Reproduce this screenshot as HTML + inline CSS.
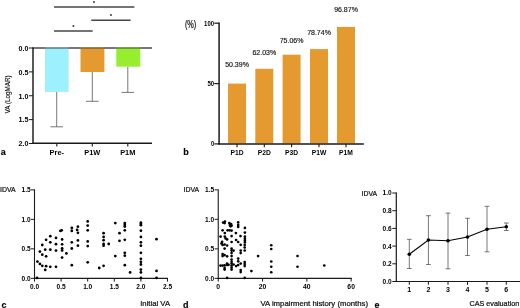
<!DOCTYPE html>
<html><head><meta charset="utf-8"><title>Figure</title>
<style>
html,body{margin:0;padding:0;background:#fff;}
body{width:520px;height:308px;overflow:hidden;}
svg{display:block;font-family:"Liberation Sans",Arial,sans-serif;}
.b{font-weight:bold;fill:#000;}
.p{stroke:#000;stroke-width:0.12;}
.t{fill:#111;stroke:#111;stroke-width:0.22;}
.t2{fill:#111;stroke:#111;stroke-width:0.15;}
</style></head><body>
<svg width="520" height="308" viewBox="0 0 520 308">
<rect width="520" height="308" fill="#fff"/>

<g id="pa">
<line x1="54" y1="7.05" x2="134.4" y2="7.05" stroke="#464646" stroke-width="1.45"/>
<line x1="91.3" y1="20.2" x2="130.6" y2="20.2" stroke="#464646" stroke-width="1.45"/>
<line x1="54" y1="30.9" x2="92.7" y2="30.9" stroke="#464646" stroke-width="1.45"/>
<text x="94" y="5.3" font-size="6" text-anchor="middle" class="b" fill="#111">*</text>
<text x="111" y="18.1" font-size="6" text-anchor="middle" class="b" fill="#111">*</text>
<text x="73.3" y="29.3" font-size="6" text-anchor="middle" class="b" fill="#111">*</text>
<line x1="56.7" y1="91.9" x2="56.7" y2="126.8" stroke="#555" stroke-width="0.8"/>
<line x1="50.400000000000006" y1="126.8" x2="63.0" y2="126.8" stroke="#555" stroke-width="0.8"/>
<rect x="45" y="48" width="23.6" height="43.9" fill="#9df0fd"/>
<line x1="92.3" y1="72" x2="92.3" y2="101.3" stroke="#555" stroke-width="0.8"/>
<line x1="86.0" y1="101.3" x2="98.6" y2="101.3" stroke="#555" stroke-width="0.8"/>
<rect x="80.5" y="48" width="23.9" height="24.0" fill="#e59a2f"/>
<line x1="127.8" y1="66.7" x2="127.8" y2="92.4" stroke="#555" stroke-width="0.8"/>
<line x1="121.5" y1="92.4" x2="134.1" y2="92.4" stroke="#555" stroke-width="0.8"/>
<rect x="116.3" y="48" width="24.0" height="18.7" fill="#97ee2f"/>
<line x1="32.4" y1="48" x2="152" y2="48" stroke="#4a4a4a" stroke-width="1.3"/>
<rect x="45" y="47.35" width="23.6" height="1.3" fill="#9df0fd" opacity="0.45"/>
<rect x="80.5" y="47.35" width="23.9" height="1.3" fill="#e59a2f" opacity="0.45"/>
<rect x="116.3" y="47.35" width="24.0" height="1.3" fill="#97ee2f" opacity="0.45"/>
<line x1="33" y1="47.4" x2="33" y2="143.9" stroke="#1a1a1a" stroke-width="1.45"/>
<line x1="32.4" y1="143.25" x2="152" y2="143.25" stroke="#1a1a1a" stroke-width="1.3"/>
<line x1="29" y1="48.0" x2="33" y2="48.0" stroke="#1a1a1a" stroke-width="1"/>
<text x="18.4" y="50.80" font-size="7.8" textLength="10" lengthAdjust="spacingAndGlyphs" class="b">0.0</text>
<line x1="29" y1="71.875" x2="33" y2="71.875" stroke="#1a1a1a" stroke-width="1"/>
<text x="18.4" y="74.67" font-size="7.8" textLength="10" lengthAdjust="spacingAndGlyphs" class="b">0.5</text>
<line x1="29" y1="95.75" x2="33" y2="95.75" stroke="#1a1a1a" stroke-width="1"/>
<text x="18.4" y="98.55" font-size="7.8" textLength="10" lengthAdjust="spacingAndGlyphs" class="b">1.0</text>
<line x1="29" y1="119.625" x2="33" y2="119.625" stroke="#1a1a1a" stroke-width="1"/>
<text x="18.4" y="122.42" font-size="7.8" textLength="10" lengthAdjust="spacingAndGlyphs" class="b">1.5</text>
<line x1="29" y1="143.5" x2="33" y2="143.5" stroke="#1a1a1a" stroke-width="1"/>
<text x="18.4" y="146.30" font-size="7.8" textLength="10" lengthAdjust="spacingAndGlyphs" class="b">2.0</text>
<line x1="56.8" y1="143.5" x2="56.8" y2="146.6" stroke="#1a1a1a" stroke-width="1.1"/>
<text x="56.8" y="154.5" font-size="7.4" text-anchor="middle" class="b">Pre-</text>
<line x1="92.3" y1="143.5" x2="92.3" y2="146.6" stroke="#1a1a1a" stroke-width="1.1"/>
<text x="92.3" y="154.5" font-size="7.4" text-anchor="middle" class="b">P1W</text>
<line x1="127.8" y1="143.5" x2="127.8" y2="146.6" stroke="#1a1a1a" stroke-width="1.1"/>
<text x="127.8" y="154.5" font-size="7.4" text-anchor="middle" class="b">P1M</text>
<text transform="translate(10,94.4) rotate(-90)" font-size="6.3" text-anchor="middle" class="t2">VA (LogMAR)</text>
<text x="0.8" y="154.8" font-size="9" class="b p">a</text>
</g>
<g id="pb">
<rect x="228" y="83.6" width="18" height="59.7" fill="#e59a2f"/>
<text x="237" y="66.9" font-size="7" text-anchor="middle" class="t2">50.39%</text>
<rect x="255.3" y="68.8" width="18" height="74.5" fill="#e59a2f"/>
<text x="264.3" y="54.8" font-size="7" text-anchor="middle" class="t2">62.03%</text>
<rect x="282.6" y="54.7" width="18" height="88.6" fill="#e59a2f"/>
<text x="291.6" y="43" font-size="7" text-anchor="middle" class="t2">75.06%</text>
<rect x="310" y="49.1" width="18" height="94.2" fill="#e59a2f"/>
<text x="319" y="35.1" font-size="7" text-anchor="middle" class="t2">78.74%</text>
<rect x="337" y="26.9" width="18" height="116.4" fill="#e59a2f"/>
<text x="346" y="12.3" font-size="7" text-anchor="middle" class="t2">96.87%</text>
<line x1="219.1" y1="22.6" x2="219.1" y2="144.6" stroke="#1a1a1a" stroke-width="1.5"/>
<line x1="218.4" y1="144.05" x2="363.8" y2="144.05" stroke="#1a1a1a" stroke-width="1.5"/>
<line x1="214.3" y1="23.2" x2="219.1" y2="23.2" stroke="#1a1a1a" stroke-width="1.2"/>
<text x="204.1" y="25.50" font-size="6.6" textLength="10" lengthAdjust="spacingAndGlyphs" class="b">100</text>
<line x1="214.3" y1="83.6" x2="219.1" y2="83.6" stroke="#1a1a1a" stroke-width="1.2"/>
<text x="207.4" y="85.90" font-size="6.6" textLength="6.7" lengthAdjust="spacingAndGlyphs" class="b">50</text>
<line x1="214.3" y1="143.9" x2="219.1" y2="143.9" stroke="#1a1a1a" stroke-width="1.2"/>
<text x="210.9" y="146.20" font-size="6.6" textLength="3.2" lengthAdjust="spacingAndGlyphs" class="b">0</text>
<line x1="237" y1="143.9" x2="237" y2="147.2" stroke="#1a1a1a" stroke-width="1.1"/>
<text x="237" y="155" font-size="6.7" text-anchor="middle" class="b">P1D</text>
<line x1="264.3" y1="143.9" x2="264.3" y2="147.2" stroke="#1a1a1a" stroke-width="1.1"/>
<text x="264.3" y="155" font-size="6.7" text-anchor="middle" class="b">P2D</text>
<line x1="291.6" y1="143.9" x2="291.6" y2="147.2" stroke="#1a1a1a" stroke-width="1.1"/>
<text x="291.6" y="155" font-size="6.7" text-anchor="middle" class="b">P3D</text>
<line x1="319" y1="143.9" x2="319" y2="147.2" stroke="#1a1a1a" stroke-width="1.1"/>
<text x="319" y="155" font-size="6.7" text-anchor="middle" class="b">P1W</text>
<line x1="346" y1="143.9" x2="346" y2="147.2" stroke="#1a1a1a" stroke-width="1.1"/>
<text x="346" y="155" font-size="6.7" text-anchor="middle" class="b">P1M</text>
<text x="184.9" y="27.5" font-size="10" textLength="11.4" lengthAdjust="spacingAndGlyphs" class="t">(%)</text>
<text x="183.3" y="154.9" font-size="9" class="b p">b</text>
</g>
<g id="pc">
<line x1="34.5" y1="189.4" x2="34.5" y2="278.9" stroke="#1a1a1a" stroke-width="1.1"/>
<line x1="34" y1="278.35" x2="168" y2="278.35" stroke="#1a1a1a" stroke-width="1.1"/>
<line x1="31" y1="278.35" x2="34.5" y2="278.35" stroke="#1a1a1a" stroke-width="1"/>
<text x="30.6" y="280.75" font-size="6.8" text-anchor="end" textLength="9.1" lengthAdjust="spacingAndGlyphs" class="b">0.0</text>
<line x1="31" y1="248.85" x2="34.5" y2="248.85" stroke="#1a1a1a" stroke-width="1"/>
<text x="30.6" y="251.25" font-size="6.8" text-anchor="end" textLength="9.1" lengthAdjust="spacingAndGlyphs" class="b">0.5</text>
<line x1="31" y1="219.35" x2="34.5" y2="219.35" stroke="#1a1a1a" stroke-width="1"/>
<text x="30.6" y="221.75" font-size="6.8" text-anchor="end" textLength="9.1" lengthAdjust="spacingAndGlyphs" class="b">1.0</text>
<line x1="31" y1="189.85" x2="34.5" y2="189.85" stroke="#1a1a1a" stroke-width="1"/>
<text x="30.6" y="192.25" font-size="6.8" text-anchor="end" textLength="9.1" lengthAdjust="spacingAndGlyphs" class="b">1.5</text>
<line x1="34.50" y1="278.35" x2="34.50" y2="281.6" stroke="#1a1a1a" stroke-width="1"/>
<text x="34.50" y="288.6" font-size="6.8" text-anchor="middle" textLength="9.1" lengthAdjust="spacingAndGlyphs" class="b">0.0</text>
<line x1="61.10" y1="278.35" x2="61.10" y2="281.6" stroke="#1a1a1a" stroke-width="1"/>
<text x="61.10" y="288.6" font-size="6.8" text-anchor="middle" textLength="9.1" lengthAdjust="spacingAndGlyphs" class="b">0.5</text>
<line x1="87.70" y1="278.35" x2="87.70" y2="281.6" stroke="#1a1a1a" stroke-width="1"/>
<text x="87.70" y="288.6" font-size="6.8" text-anchor="middle" textLength="9.1" lengthAdjust="spacingAndGlyphs" class="b">1.0</text>
<line x1="114.30" y1="278.35" x2="114.30" y2="281.6" stroke="#1a1a1a" stroke-width="1"/>
<text x="114.30" y="288.6" font-size="6.8" text-anchor="middle" textLength="9.1" lengthAdjust="spacingAndGlyphs" class="b">1.5</text>
<line x1="140.90" y1="278.35" x2="140.90" y2="281.6" stroke="#1a1a1a" stroke-width="1"/>
<text x="140.90" y="288.6" font-size="6.8" text-anchor="middle" textLength="9.1" lengthAdjust="spacingAndGlyphs" class="b">2.0</text>
<line x1="167.50" y1="278.35" x2="167.50" y2="281.6" stroke="#1a1a1a" stroke-width="1"/>
<text x="167.50" y="288.6" font-size="6.8" text-anchor="middle" textLength="9.1" lengthAdjust="spacingAndGlyphs" class="b">2.5</text>
<g fill="#000">
<circle cx="87.7" cy="221.4" r="1.38"/>
<circle cx="87.7" cy="225.6" r="1.38"/>
<circle cx="87.7" cy="230.3" r="1.38"/>
<circle cx="87.7" cy="241.4" r="1.38"/>
<circle cx="87.7" cy="246.1" r="1.38"/>
<circle cx="77.9" cy="226.7" r="1.38"/>
<circle cx="77.1" cy="229.9" r="1.38"/>
<circle cx="77.9" cy="232.8" r="1.38"/>
<circle cx="77.9" cy="240.4" r="1.38"/>
<circle cx="77.9" cy="245.7" r="1.38"/>
<circle cx="71.8" cy="228" r="1.38"/>
<circle cx="71.8" cy="230.9" r="1.38"/>
<circle cx="71.8" cy="242.3" r="1.38"/>
<circle cx="71.8" cy="248.5" r="1.38"/>
<circle cx="61.7" cy="230.3" r="1.38"/>
<circle cx="60.4" cy="230.9" r="1.38"/>
<circle cx="62.1" cy="239.4" r="1.38"/>
<circle cx="62.1" cy="244.3" r="1.38"/>
<circle cx="62.1" cy="248.3" r="1.38"/>
<circle cx="62.1" cy="250.4" r="1.38"/>
<circle cx="62.1" cy="257.6" r="1.38"/>
<circle cx="56" cy="237.9" r="1.38"/>
<circle cx="56" cy="244.2" r="1.38"/>
<circle cx="56" cy="250.6" r="1.38"/>
<circle cx="56" cy="266.8" r="1.38"/>
<circle cx="50.3" cy="236.2" r="1.38"/>
<circle cx="50.3" cy="242.3" r="1.38"/>
<circle cx="50.3" cy="249.7" r="1.38"/>
<circle cx="50.3" cy="266.8" r="1.38"/>
<circle cx="46.1" cy="239.8" r="1.38"/>
<circle cx="46.1" cy="256.3" r="1.38"/>
<circle cx="46.1" cy="266.2" r="1.38"/>
<circle cx="45.2" cy="249.7" r="1.38"/>
<circle cx="45.2" cy="269.9" r="1.38"/>
<circle cx="42.3" cy="245" r="1.38"/>
<circle cx="42.3" cy="254.7" r="1.38"/>
<circle cx="42.3" cy="265.8" r="1.38"/>
<circle cx="39.9" cy="251.6" r="1.38"/>
<circle cx="39.9" cy="263.9" r="1.38"/>
<circle cx="37.4" cy="261.6" r="1.38"/>
<circle cx="37" cy="277.9" r="1.38"/>
<circle cx="66.4" cy="253.4" r="1.38"/>
<circle cx="71.8" cy="265.2" r="1.38"/>
<circle cx="87.7" cy="262.3" r="1.38"/>
<circle cx="103.6" cy="233.2" r="1.38"/>
<circle cx="103.6" cy="236.9" r="1.38"/>
<circle cx="103.6" cy="240.2" r="1.38"/>
<circle cx="103.6" cy="244" r="1.38"/>
<circle cx="103.6" cy="245.7" r="1.38"/>
<circle cx="103.6" cy="265.8" r="1.38"/>
<circle cx="108.7" cy="244" r="1.38"/>
<circle cx="99.2" cy="268" r="1.38"/>
<circle cx="115.3" cy="223.1" r="1.38"/>
<circle cx="115.3" cy="256.1" r="1.38"/>
<circle cx="119.5" cy="233.2" r="1.38"/>
<circle cx="119.5" cy="240.8" r="1.38"/>
<circle cx="124.8" cy="223.1" r="1.38"/>
<circle cx="124.8" cy="224.8" r="1.38"/>
<circle cx="124.8" cy="226.5" r="1.38"/>
<circle cx="124.8" cy="230.3" r="1.38"/>
<circle cx="124.8" cy="239.8" r="1.38"/>
<circle cx="124.8" cy="252.8" r="1.38"/>
<circle cx="124.8" cy="255.7" r="1.38"/>
<circle cx="124.8" cy="265.2" r="1.38"/>
<circle cx="130.1" cy="272.4" r="1.38"/>
<circle cx="140.9" cy="222.7" r="1.38"/>
<circle cx="140.9" cy="223.9" r="1.38"/>
<circle cx="140.9" cy="225.2" r="1.38"/>
<circle cx="140.9" cy="230.7" r="1.38"/>
<circle cx="140.9" cy="236.9" r="1.38"/>
<circle cx="140.9" cy="242.3" r="1.38"/>
<circle cx="140.9" cy="245.7" r="1.38"/>
<circle cx="140.9" cy="252.8" r="1.38"/>
<circle cx="140.9" cy="258.8" r="1.38"/>
<circle cx="140.9" cy="261.8" r="1.38"/>
<circle cx="140.9" cy="264.5" r="1.38"/>
<circle cx="140.9" cy="269.6" r="1.38"/>
<circle cx="140.9" cy="272.4" r="1.38"/>
<circle cx="140.9" cy="277.9" r="1.38"/>
<circle cx="156.5" cy="239.2" r="1.38"/>
<circle cx="156.5" cy="270.9" r="1.38"/>
<circle cx="156.5" cy="277.9" r="1.38"/>
</g>
<text x="0.1" y="192.4" font-size="6.9" class="t">IDVA</text>
<text x="140.2" y="306.2" font-size="7.6" textLength="29.9" lengthAdjust="spacingAndGlyphs" class="t">Initial VA</text>
<text x="1.5" y="307.5" font-size="9" class="b p">c</text>
</g>
<g id="pd">
<line x1="218.25" y1="189.4" x2="218.25" y2="278.9" stroke="#1a1a1a" stroke-width="1.1"/>
<line x1="217.7" y1="278.35" x2="351.8" y2="278.35" stroke="#1a1a1a" stroke-width="1.1"/>
<line x1="214.6" y1="278.35" x2="218.25" y2="278.35" stroke="#1a1a1a" stroke-width="1"/>
<text x="214.1" y="280.75" font-size="6.8" text-anchor="end" textLength="9.1" lengthAdjust="spacingAndGlyphs" class="b">0.0</text>
<line x1="214.6" y1="248.85" x2="218.25" y2="248.85" stroke="#1a1a1a" stroke-width="1"/>
<text x="214.1" y="251.25" font-size="6.8" text-anchor="end" textLength="9.1" lengthAdjust="spacingAndGlyphs" class="b">0.5</text>
<line x1="214.6" y1="219.35" x2="218.25" y2="219.35" stroke="#1a1a1a" stroke-width="1"/>
<text x="214.1" y="221.75" font-size="6.8" text-anchor="end" textLength="9.1" lengthAdjust="spacingAndGlyphs" class="b">1.0</text>
<line x1="214.6" y1="189.85" x2="218.25" y2="189.85" stroke="#1a1a1a" stroke-width="1"/>
<text x="214.1" y="192.25" font-size="6.8" text-anchor="end" textLength="9.1" lengthAdjust="spacingAndGlyphs" class="b">1.5</text>
<line x1="218.25" y1="278.35" x2="218.25" y2="281.6" stroke="#1a1a1a" stroke-width="1"/>
<text x="218.25" y="288.7" font-size="6.8" text-anchor="middle" class="b">0</text>
<line x1="262.55" y1="278.35" x2="262.55" y2="281.6" stroke="#1a1a1a" stroke-width="1"/>
<text x="262.55" y="288.7" font-size="6.8" text-anchor="middle" class="b">20</text>
<line x1="306.85" y1="278.35" x2="306.85" y2="281.6" stroke="#1a1a1a" stroke-width="1"/>
<text x="306.85" y="288.7" font-size="6.8" text-anchor="middle" class="b">40</text>
<line x1="351.15" y1="278.35" x2="351.15" y2="281.6" stroke="#1a1a1a" stroke-width="1"/>
<text x="351.15" y="288.7" font-size="6.8" text-anchor="middle" class="b">60</text>
<g fill="#000">
<circle cx="224.9" cy="221.6" r="1.33"/>
<circle cx="223.1" cy="222.6" r="1.33"/>
<circle cx="224.6" cy="223.1" r="1.33"/>
<circle cx="229.3" cy="223.1" r="1.33"/>
<circle cx="231.1" cy="224.1" r="1.33"/>
<circle cx="229.9" cy="225.1" r="1.33"/>
<circle cx="231.6" cy="225.6" r="1.33"/>
<circle cx="230.6" cy="226.3" r="1.33"/>
<circle cx="238.2" cy="222.4" r="1.33"/>
<circle cx="238.2" cy="225.1" r="1.33"/>
<circle cx="238.2" cy="226.9" r="1.33"/>
<circle cx="244.9" cy="227.9" r="1.33"/>
<circle cx="222.6" cy="230.3" r="1.33"/>
<circle cx="227.6" cy="230.3" r="1.33"/>
<circle cx="229.6" cy="230.3" r="1.33"/>
<circle cx="231.6" cy="230.6" r="1.33"/>
<circle cx="224.8" cy="233.1" r="1.33"/>
<circle cx="235.9" cy="233.1" r="1.33"/>
<circle cx="244.9" cy="232.6" r="1.33"/>
<circle cx="220.6" cy="236.6" r="1.33"/>
<circle cx="224.8" cy="236.6" r="1.33"/>
<circle cx="231.6" cy="236.1" r="1.33"/>
<circle cx="240.5" cy="236.1" r="1.33"/>
<circle cx="244.9" cy="236.6" r="1.33"/>
<circle cx="225.6" cy="238.4" r="1.33"/>
<circle cx="227.1" cy="239.4" r="1.33"/>
<circle cx="244.9" cy="238.7" r="1.33"/>
<circle cx="236.1" cy="240" r="1.33"/>
<circle cx="244.9" cy="240.7" r="1.33"/>
<circle cx="222.1" cy="241.9" r="1.33"/>
<circle cx="231.6" cy="242" r="1.33"/>
<circle cx="238.2" cy="242" r="1.33"/>
<circle cx="244.9" cy="242.5" r="1.33"/>
<circle cx="221.5" cy="243.5" r="1.33"/>
<circle cx="222.6" cy="245" r="1.33"/>
<circle cx="224.6" cy="244.5" r="1.33"/>
<circle cx="227.1" cy="245.5" r="1.33"/>
<circle cx="240.7" cy="244.8" r="1.33"/>
<circle cx="244.7" cy="245" r="1.33"/>
<circle cx="244.7" cy="247.5" r="1.33"/>
<circle cx="244.7" cy="250.5" r="1.33"/>
<circle cx="224.6" cy="248.6" r="1.33"/>
<circle cx="231.6" cy="248.6" r="1.33"/>
<circle cx="231.6" cy="250.6" r="1.33"/>
<circle cx="231.6" cy="253.1" r="1.33"/>
<circle cx="233.6" cy="250.6" r="1.33"/>
<circle cx="240.7" cy="250.6" r="1.33"/>
<circle cx="240.7" cy="253.1" r="1.33"/>
<circle cx="222.6" cy="254.1" r="1.33"/>
<circle cx="222.6" cy="256.1" r="1.33"/>
<circle cx="224.6" cy="255.1" r="1.33"/>
<circle cx="227.1" cy="256.3" r="1.33"/>
<circle cx="231.6" cy="256.1" r="1.33"/>
<circle cx="258.1" cy="256.1" r="1.33"/>
<circle cx="238.2" cy="258.6" r="1.33"/>
<circle cx="231.6" cy="259.6" r="1.33"/>
<circle cx="238.2" cy="261.3" r="1.33"/>
<circle cx="231.6" cy="261.8" r="1.33"/>
<circle cx="244.7" cy="262" r="1.33"/>
<circle cx="244.7" cy="264" r="1.33"/>
<circle cx="244.7" cy="266.1" r="1.33"/>
<circle cx="240.7" cy="263.6" r="1.33"/>
<circle cx="220.5" cy="265.6" r="1.33"/>
<circle cx="222.6" cy="265.6" r="1.33"/>
<circle cx="224.6" cy="265.4" r="1.33"/>
<circle cx="227.1" cy="265" r="1.33"/>
<circle cx="228.5" cy="264.8" r="1.33"/>
<circle cx="233.6" cy="264.5" r="1.33"/>
<circle cx="236.1" cy="266.1" r="1.33"/>
<circle cx="238.2" cy="265.1" r="1.33"/>
<circle cx="231.6" cy="263.5" r="1.33"/>
<circle cx="231.6" cy="265.6" r="1.33"/>
<circle cx="231.6" cy="267.6" r="1.33"/>
<circle cx="231.6" cy="269.6" r="1.33"/>
<circle cx="224.6" cy="268.1" r="1.33"/>
<circle cx="224.6" cy="269.6" r="1.33"/>
<circle cx="227.1" cy="263.5" r="1.33"/>
<circle cx="240.7" cy="270.1" r="1.33"/>
<circle cx="240.7" cy="272.1" r="1.33"/>
<circle cx="251.4" cy="271.1" r="1.33"/>
<circle cx="227.1" cy="277.9" r="1.33"/>
<circle cx="244.7" cy="277.9" r="1.33"/>
<circle cx="271.25" cy="245.25" r="1.33"/>
<circle cx="271.25" cy="249" r="1.33"/>
<circle cx="271.25" cy="261.5" r="1.33"/>
<circle cx="271.25" cy="266.75" r="1.33"/>
<circle cx="271.25" cy="272.25" r="1.33"/>
<circle cx="297.5" cy="256" r="1.33"/>
<circle cx="297.5" cy="266.75" r="1.33"/>
<circle cx="324.25" cy="265.5" r="1.33"/>
</g>
<text x="183.6" y="192.4" font-size="6.9" class="t">IDVA</text>
<text x="260.4" y="306.1" font-size="7.5" textLength="107.6" lengthAdjust="spacingAndGlyphs" class="t">VA impairment history (months)</text>
<text x="183" y="307.8" font-size="9" class="b p">d</text>
</g>
<g id="pe">
<line x1="396.3" y1="192.5" x2="396.3" y2="282" stroke="#1a1a1a" stroke-width="1.2"/>
<line x1="395.7" y1="281.5" x2="520" y2="281.5" stroke="#1a1a1a" stroke-width="1.05"/>
<line x1="392.3" y1="281.50" x2="396.3" y2="281.50" stroke="#1a1a1a" stroke-width="1"/>
<text x="391.7" y="283.90" font-size="6.8" text-anchor="end" textLength="9.1" lengthAdjust="spacingAndGlyphs" class="b">0.0</text>
<line x1="392.3" y1="263.80" x2="396.3" y2="263.80" stroke="#1a1a1a" stroke-width="1"/>
<text x="391.7" y="266.20" font-size="6.8" text-anchor="end" textLength="9.1" lengthAdjust="spacingAndGlyphs" class="b">0.2</text>
<line x1="392.3" y1="246.10" x2="396.3" y2="246.10" stroke="#1a1a1a" stroke-width="1"/>
<text x="391.7" y="248.50" font-size="6.8" text-anchor="end" textLength="9.1" lengthAdjust="spacingAndGlyphs" class="b">0.4</text>
<line x1="392.3" y1="228.40" x2="396.3" y2="228.40" stroke="#1a1a1a" stroke-width="1"/>
<text x="391.7" y="230.80" font-size="6.8" text-anchor="end" textLength="9.1" lengthAdjust="spacingAndGlyphs" class="b">0.6</text>
<line x1="392.3" y1="210.70" x2="396.3" y2="210.70" stroke="#1a1a1a" stroke-width="1"/>
<text x="391.7" y="213.10" font-size="6.8" text-anchor="end" textLength="9.1" lengthAdjust="spacingAndGlyphs" class="b">0.8</text>
<line x1="392.3" y1="193.00" x2="396.3" y2="193.00" stroke="#1a1a1a" stroke-width="1"/>
<text x="391.7" y="195.40" font-size="6.8" text-anchor="end" textLength="9.1" lengthAdjust="spacingAndGlyphs" class="b">1.0</text>
<line x1="409.3" y1="281.5" x2="409.3" y2="284.8" stroke="#1a1a1a" stroke-width="1"/>
<text x="409.3" y="292" font-size="7" text-anchor="middle" class="b">1</text>
<path d="M409.3 239.3V268.5M406.95 239.3H411.65000000000003M406.95 268.5H411.65000000000003" stroke="#4a4a4a" stroke-width="0.75" fill="none"/>
<line x1="428.4" y1="281.5" x2="428.4" y2="284.8" stroke="#1a1a1a" stroke-width="1"/>
<text x="428.4" y="292" font-size="7" text-anchor="middle" class="b">2</text>
<path d="M428.4 215.7V264.5M426.04999999999995 215.7H430.75M426.04999999999995 264.5H430.75" stroke="#4a4a4a" stroke-width="0.75" fill="none"/>
<line x1="448" y1="281.5" x2="448" y2="284.8" stroke="#1a1a1a" stroke-width="1"/>
<text x="448" y="292" font-size="7" text-anchor="middle" class="b">3</text>
<path d="M448 213.1V268.8M445.65 213.1H450.35M445.65 268.8H450.35" stroke="#4a4a4a" stroke-width="0.75" fill="none"/>
<line x1="467.5" y1="281.5" x2="467.5" y2="284.8" stroke="#1a1a1a" stroke-width="1"/>
<text x="467.5" y="292" font-size="7" text-anchor="middle" class="b">4</text>
<path d="M467.5 218.3V255.5M465.15 218.3H469.85M465.15 255.5H469.85" stroke="#4a4a4a" stroke-width="0.75" fill="none"/>
<line x1="487" y1="281.5" x2="487" y2="284.8" stroke="#1a1a1a" stroke-width="1"/>
<text x="487" y="292" font-size="7" text-anchor="middle" class="b">5</text>
<path d="M487 206.3V251.8M484.65 206.3H489.35M484.65 251.8H489.35" stroke="#4a4a4a" stroke-width="0.75" fill="none"/>
<line x1="506.3" y1="281.5" x2="506.3" y2="284.8" stroke="#1a1a1a" stroke-width="1"/>
<text x="506.3" y="292" font-size="7" text-anchor="middle" class="b">6</text>
<path d="M506.3 223V230.5M503.95 223H508.65000000000003M503.95 230.5H508.65000000000003" stroke="#4a4a4a" stroke-width="0.75" fill="none"/>
<polyline points="409.3,254.3 428.4,240 448,240.8 467.5,237 487,229.3 506.3,226.8" fill="none" stroke="#000" stroke-width="1.1"/>
<circle cx="409.3" cy="254.3" r="1.8" fill="#000"/>
<circle cx="428.4" cy="240" r="1.8" fill="#000"/>
<circle cx="448" cy="240.8" r="1.8" fill="#000"/>
<circle cx="467.5" cy="237" r="1.8" fill="#000"/>
<circle cx="487" cy="229.3" r="1.8" fill="#000"/>
<circle cx="506.3" cy="226.8" r="1.8" fill="#000"/>
<text x="361.5" y="195.9" font-size="6.9" class="t">IDVA</text>
<text x="469.5" y="306" font-size="7.3" textLength="49.8" lengthAdjust="spacingAndGlyphs" class="t">CAS evaluation</text>
<text x="374.5" y="307.8" font-size="9" class="b p">e</text>
</g>
</svg></body></html>
